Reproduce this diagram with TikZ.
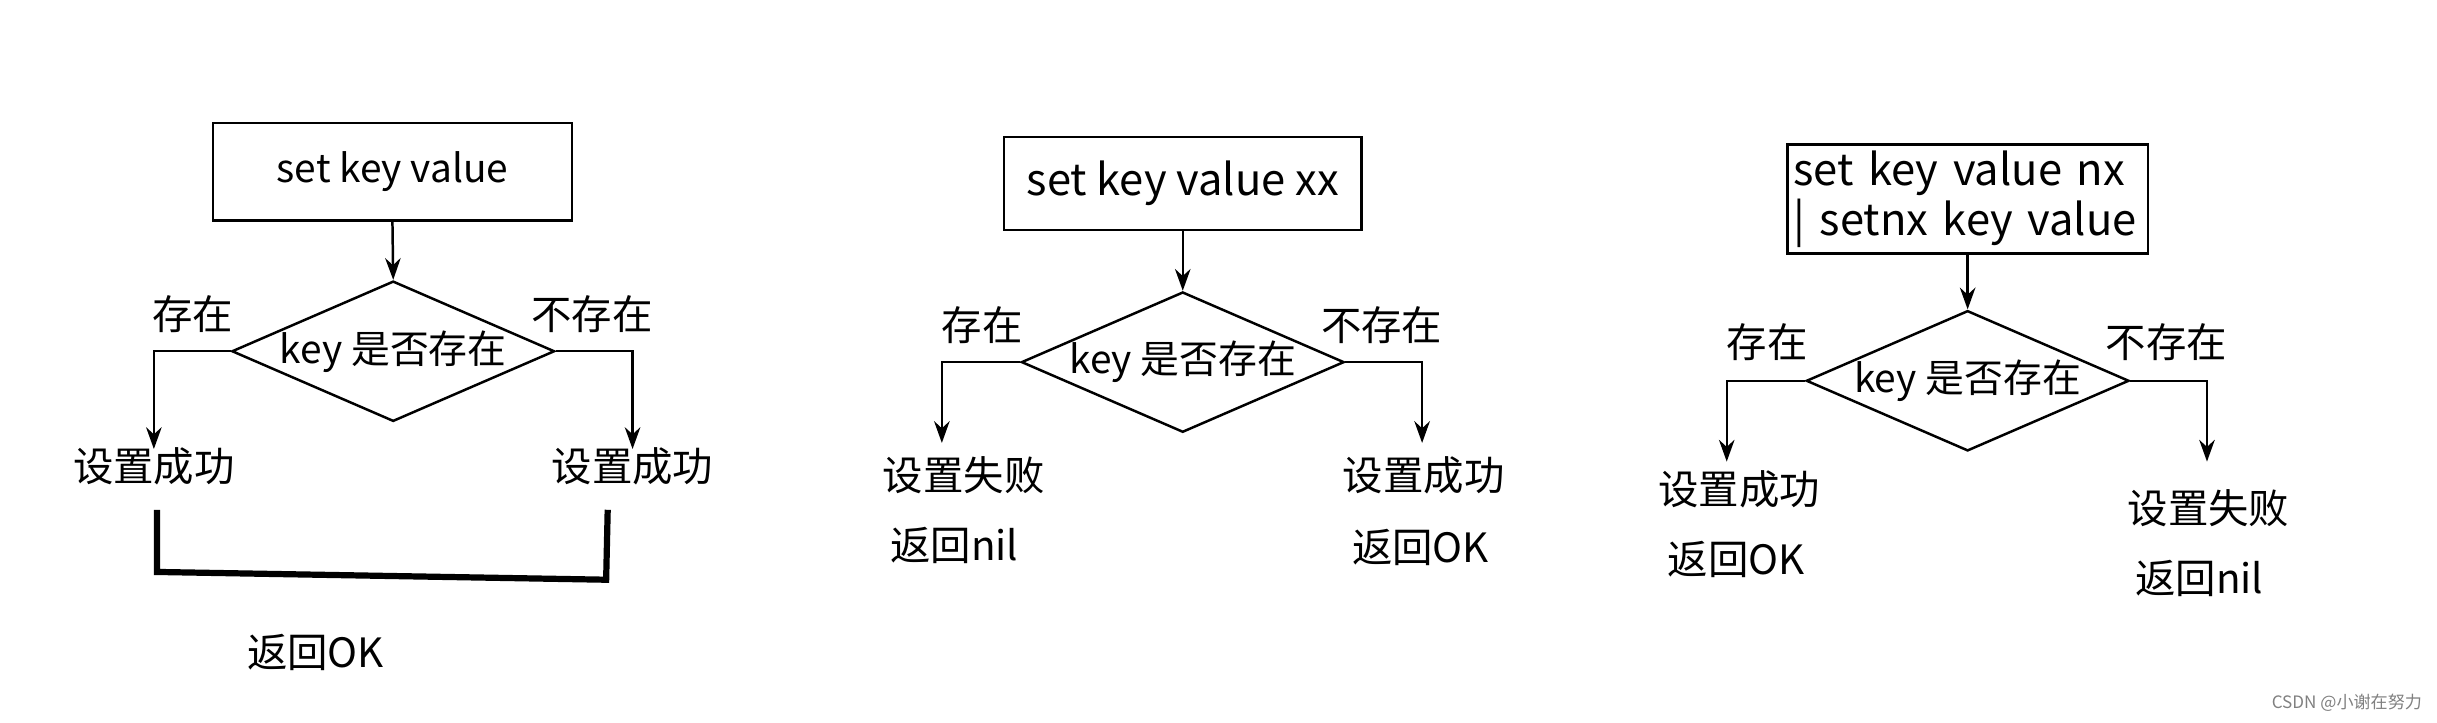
\documentclass[tikz,border=0pt]{standalone}
\usepackage{fontspec}
\setmainfont{Noto Sans CJK SC}
\usetikzlibrary{shapes.geometric,arrows.meta}
\begin{document}
\begin{tikzpicture}[x=0.5pt,y=-0.5pt,
  box/.style={draw,line width=0.8pt,inner sep=0pt},
  dia/.style={draw,line width=0.8pt,diamond,aspect=2.3,inner sep=0pt},
  arr/.style={line width=0.8pt,-{Stealth[length=7pt,width=5pt]}},
  lbl/.style={font=\fontsize{13pt}{15pt}\selectfont},
  txt/.style={font=\fontsize{12.5pt}{14pt}\selectfont}]
\useasboundingbox (0,0) rectangle (1568,465);
% diagram 1
\node[box,minimum width=115.5pt,minimum height=31.5pt,txt] (b1) at (252.5,110.5) {set key value};
\node[dia,minimum width=103pt,minimum height=44pt,txt] (d1) at (253,226) {key 是否存在};
\draw[arr] (b1.south) -- (d1.north);
\node[lbl] (l1a) at (99,300) {设置成功};
\node[lbl] (l1b) at (407,300) {设置成功};
\draw[arr] (d1.west) -| ([yshift=-4pt]l1a.north);
\draw[arr] (d1.east) -| ([yshift=-4pt]l1b.north);
\node[lbl] at (124,202) {存在};
\node[lbl] at (381,202) {不存在};
\coordinate (k1) at (101,328); \coordinate (k2) at (101,368);
\coordinate (k3) at (390,373); \coordinate (k4) at (391,328);
\draw[line width=2pt] (k1) -- (k2) -- (k3) -- (k4);
\node[lbl] at (203,420) {返回OK};
% diagram 2
\node[box,minimum width=115pt,minimum height=30pt,font=\fontsize{14pt}{16pt}\selectfont] (b2) at (761,118) {set key value xx};
\node[dia,minimum width=103pt,minimum height=45pt,txt] (d2) at (761,233) {key 是否存在};
\draw[arr] (b2.south) -- (d2.north);
\node[lbl] (l2a) at (620,306) {设置失败};
\node[lbl] (l2b) at (916,306) {设置成功};
\coordinate (e2a) at (606,285); \coordinate (e2b) at (915,285);
\draw[arr] (d2.west) -| (e2a);
\draw[arr] (d2.east) -| (e2b);
\node[lbl] at (632,209) {存在};
\node[lbl] at (889,209) {不存在};
\node[lbl] at (614,351) {返回nil};
\node[lbl] at (914,352) {返回OK};
% diagram 3
\node[box,minimum height=32pt,text width=112pt,align=left,inner sep=2pt,font=\fontsize{14pt}{13.5pt}\selectfont] (b3) at (1266,128) {set key value nx\\| setnx key value};
\node[dia,minimum width=102pt,minimum height=45pt,txt] (d3) at (1266,245) {key 是否存在};
\draw[arr] (b3.south) -- (d3.north);
\coordinate (e3a) at (1111,297); \coordinate (e3b) at (1420,297);
\draw[arr] (d3.west) -| (e3a);
\draw[arr] (d3.east) -| (e3b);
\node[lbl] at (1137,220) {存在};
\node[lbl] at (1394,220) {不存在};
\node[lbl] at (1119,315) {设置成功};
\node[lbl] at (1117,360) {返回OK};
\node[lbl] at (1421,327) {设置失败};
\node[lbl] at (1415,372) {返回nil};
\node[font=\fontsize{5.5pt}{6pt}\selectfont,text=gray] at (1510,452) {CSDN @小谢在努力};
\end{tikzpicture}
\end{document}
